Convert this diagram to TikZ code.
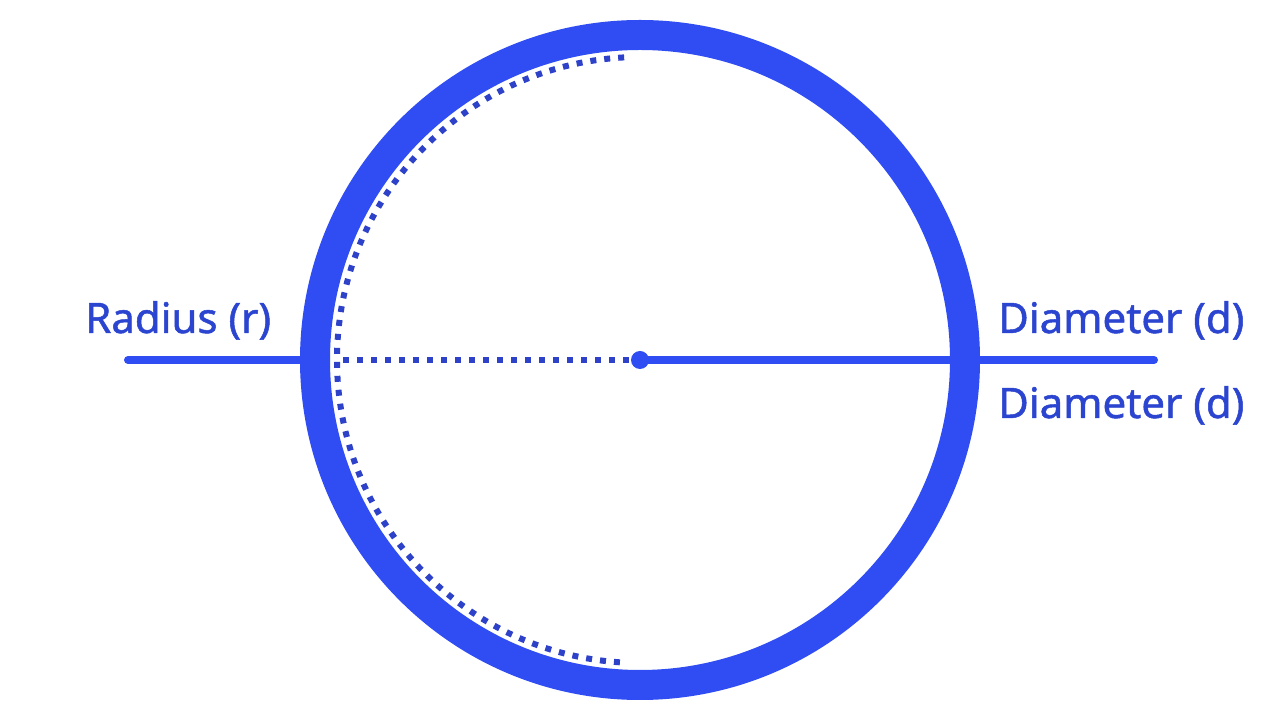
\documentclass[tikz,border=0pt]{standalone}
\usepackage{fontspec}
\setmainfont{Noto Sans}
\newfontfamily\labfont[FakeBold=1.2]{Noto Sans}
\begin{document}
\definecolor{ringblue}{HTML}{2F4DF2}
\definecolor{dotblue}{HTML}{2D42C8}
\definecolor{textblue}{HTML}{2B45D0}
\begin{tikzpicture}[x=1pt,y=1pt,
  ringstyle/.style={circle, draw=ringblue, line width=30pt, minimum size=650pt, inner sep=0pt},
  solidline/.style={draw=ringblue, line width=8pt, line cap=round},
  dotline/.style={draw=dotblue, line width=6pt, dash pattern=on 6pt off 8pt},
  label/.style={text=textblue, font=\labfont\fontsize{42}{48}\selectfont, anchor=base west, inner sep=0pt},
  centerdot/.style={circle, fill=ringblue, minimum size=18pt, inner sep=0pt}]
\useasboundingbox (0,0) rectangle (1280,720);
\fill[white] (0,0) rectangle (1280,720);
\coordinate (leftend) at (128,360);
\coordinate (rightend) at (1154,360);
\coordinate (dotstart) at (343,360);
\coordinate (dotend) at (630,360);
% dotted arc
\draw[dotline] (640,360) ++(93:303) arc[start angle=93, end angle=267, radius=303];
% dotted radius
\draw[dotline] (dotstart) -- (dotend);
% solid lines
\node (c) [centerdot] at (640,360) {};
\draw[solidline] (c.center) -- (rightend);
\node (ring) [ringstyle] at (640,360) {};
\draw[solidline] (leftend) -- (ring.west);
% labels
\node (rlabel) [label] at (85,387) {Radius (r)};
\node (dlabel1) [label] at (998,387) {Diameter (d)};
\node (dlabel2) [label] at (998,302) {Diameter (d)};
\end{tikzpicture}
\end{document}
